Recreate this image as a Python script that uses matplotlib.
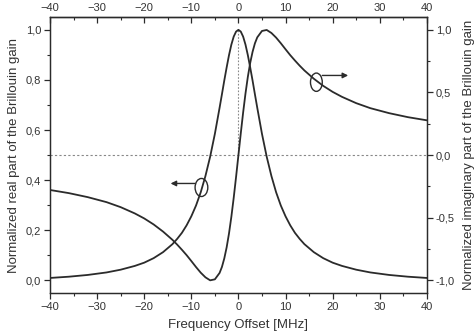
import matplotlib
matplotlib.use("Agg")
import matplotlib.pyplot as plt
from matplotlib.patches import Ellipse
from matplotlib.ticker import MultipleLocator, FuncFormatter

plt.rcParams['font.family'] = ['Liberation Sans', 'DejaVu Sans']

# Frequency offset grid [MHz]
freq = [-40, -36, -32, -28, -25, -22, -20, -18, -16, -14, -13, -12, -11, -10,
        -9, -8, -7, -6, -5, -4, -3.5, -3, -2.5, -2, -1.5, -1, -0.5, 0,
        0.5, 1, 1.5, 2, 2.5, 3, 3.5, 4, 5, 6, 7, 8, 9, 10, 11, 12, 13, 14,
        16, 18, 20, 22, 25, 28, 32, 36, 40]

# Normalized real part of the Brillouin gain (left axis)
gain_real = [0.010, 0.015, 0.022, 0.032, 0.043, 0.058, 0.071, 0.089, 0.113,
             0.145, 0.166, 0.190, 0.220, 0.256, 0.299, 0.352, 0.417, 0.494,
             0.585, 0.689, 0.743, 0.798, 0.850, 0.899, 0.941, 0.973, 0.993,
             1.000,
             0.993, 0.973, 0.941, 0.899, 0.850, 0.798, 0.743, 0.689, 0.585,
             0.494, 0.417, 0.352, 0.299, 0.256, 0.220, 0.190, 0.166, 0.145,
             0.113, 0.089, 0.071, 0.058, 0.043, 0.032, 0.022, 0.015, 0.010]

# Normalized imaginary part of the Brillouin gain (right axis)
gain_imag = [-0.278, -0.303, -0.335, -0.375, -0.415, -0.465, -0.505, -0.553,
             -0.610, -0.676, -0.714, -0.755, -0.798, -0.845, -0.893, -0.938,
             -0.975, -0.999, -0.991, -0.940, -0.892, -0.824, -0.736, -0.625,
             -0.492, -0.340, -0.174,
             0.000,
             0.174, 0.340, 0.492, 0.625, 0.736, 0.824, 0.892, 0.940, 0.991,
             0.999, 0.975, 0.938, 0.893, 0.845, 0.798, 0.755, 0.714, 0.676,
             0.610, 0.553, 0.505, 0.465, 0.415, 0.375, 0.335, 0.303, 0.278]

x_ticks = [-40, -30, -20, -10, 0, 10, 20, 30, 40]
left_ticks = [0.0, 0.2, 0.4, 0.6, 0.8, 1.0]
right_ticks = [-1.0, -0.5, 0.0, 0.5, 1.0]

line_col = '#2b2b2b'
text_col = '#333333'

fig = plt.figure(figsize=(4.74, 3.36), dpi=100)
ax = fig.add_axes([0.1055, 0.128, 0.795, 0.8205])
ax2 = ax.twinx()

comma = FuncFormatter(lambda v, p: f"{v:.1f}".replace('.', ','))

# reference lines
ax.axhline(0.5, color='#888888', lw=0.8, ls=(0, (2, 2)))
ax.plot([0, 0], [0.5, 1.0], color='#888888', lw=0.8, ls=(0, (1.5, 1.5)))

ax.plot(freq, gain_real, color=line_col, lw=1.3, solid_joinstyle='round')
ax2.plot(freq, gain_imag, color=line_col, lw=1.3, solid_joinstyle='round')

ax.set_xlim(-40, 40)
ax.set_ylim(-0.05, 1.05)
ax2.set_ylim(-1.1, 1.1)

ax.set_xticks(x_ticks)
ax.xaxis.set_minor_locator(MultipleLocator(5))
ax.set_yticks(left_ticks)
ax.yaxis.set_minor_locator(MultipleLocator(0.1))
ax.yaxis.set_major_formatter(comma)
ax2.set_yticks(right_ticks)
ax2.yaxis.set_minor_locator(MultipleLocator(0.25))
ax2.yaxis.set_major_formatter(comma)

for a in (ax, ax2):
    a.tick_params(which='major', length=4, width=0.9, direction='out',
                  labelsize=8, labelcolor=text_col, color=line_col, pad=2.5)
    a.tick_params(which='minor', length=2.5, width=0.8, direction='out',
                  color=line_col)
    for s in a.spines.values():
        s.set_color(line_col)
        s.set_linewidth(0.9)

top = ax.secondary_xaxis('top')
top.set_xticks(x_ticks)
top.xaxis.set_minor_locator(MultipleLocator(5))
top.tick_params(which='major', length=4, width=0.9, direction='in',
                labelsize=8, labelcolor=text_col, color=line_col, pad=3)
top.tick_params(which='minor', length=2.5, width=0.8, direction='in',
                color=line_col)
top.spines['top'].set_color(line_col)
top.spines['top'].set_linewidth(0.9)

ax.set_xlabel('Frequency Offset [MHz]', fontsize=9.5, color=text_col,
              labelpad=5)
ax.set_ylabel('Normalized real part of the Brillouin gain', fontsize=9.5,
              color=text_col, labelpad=4)
ax2.set_ylabel('Normalized imaginary part of the Brillouin gain',
               fontsize=9.5, color=text_col, labelpad=6)

# curve markers with arrows pointing to the relevant axis
ax.add_patch(Ellipse((-7.85, 0.371), 2.7, 0.072, fill=False,
                     edgecolor=line_col, lw=1.0))
ax.annotate('', xy=(-14.4, 0.387), xytext=(-9.2, 0.387),
            arrowprops=dict(arrowstyle='-|>', color=line_col, lw=1.0,
                            mutation_scale=8, shrinkA=0, shrinkB=0))
ax.add_patch(Ellipse((16.55, 0.791), 2.5, 0.073, fill=False,
                     edgecolor=line_col, lw=1.0))
ax.annotate('', xy=(23.3, 0.818), xytext=(17.8, 0.818),
            arrowprops=dict(arrowstyle='-|>', color=line_col, lw=1.0,
                            mutation_scale=8, shrinkA=0, shrinkB=0))

fig.savefig('out.png', dpi=100)
